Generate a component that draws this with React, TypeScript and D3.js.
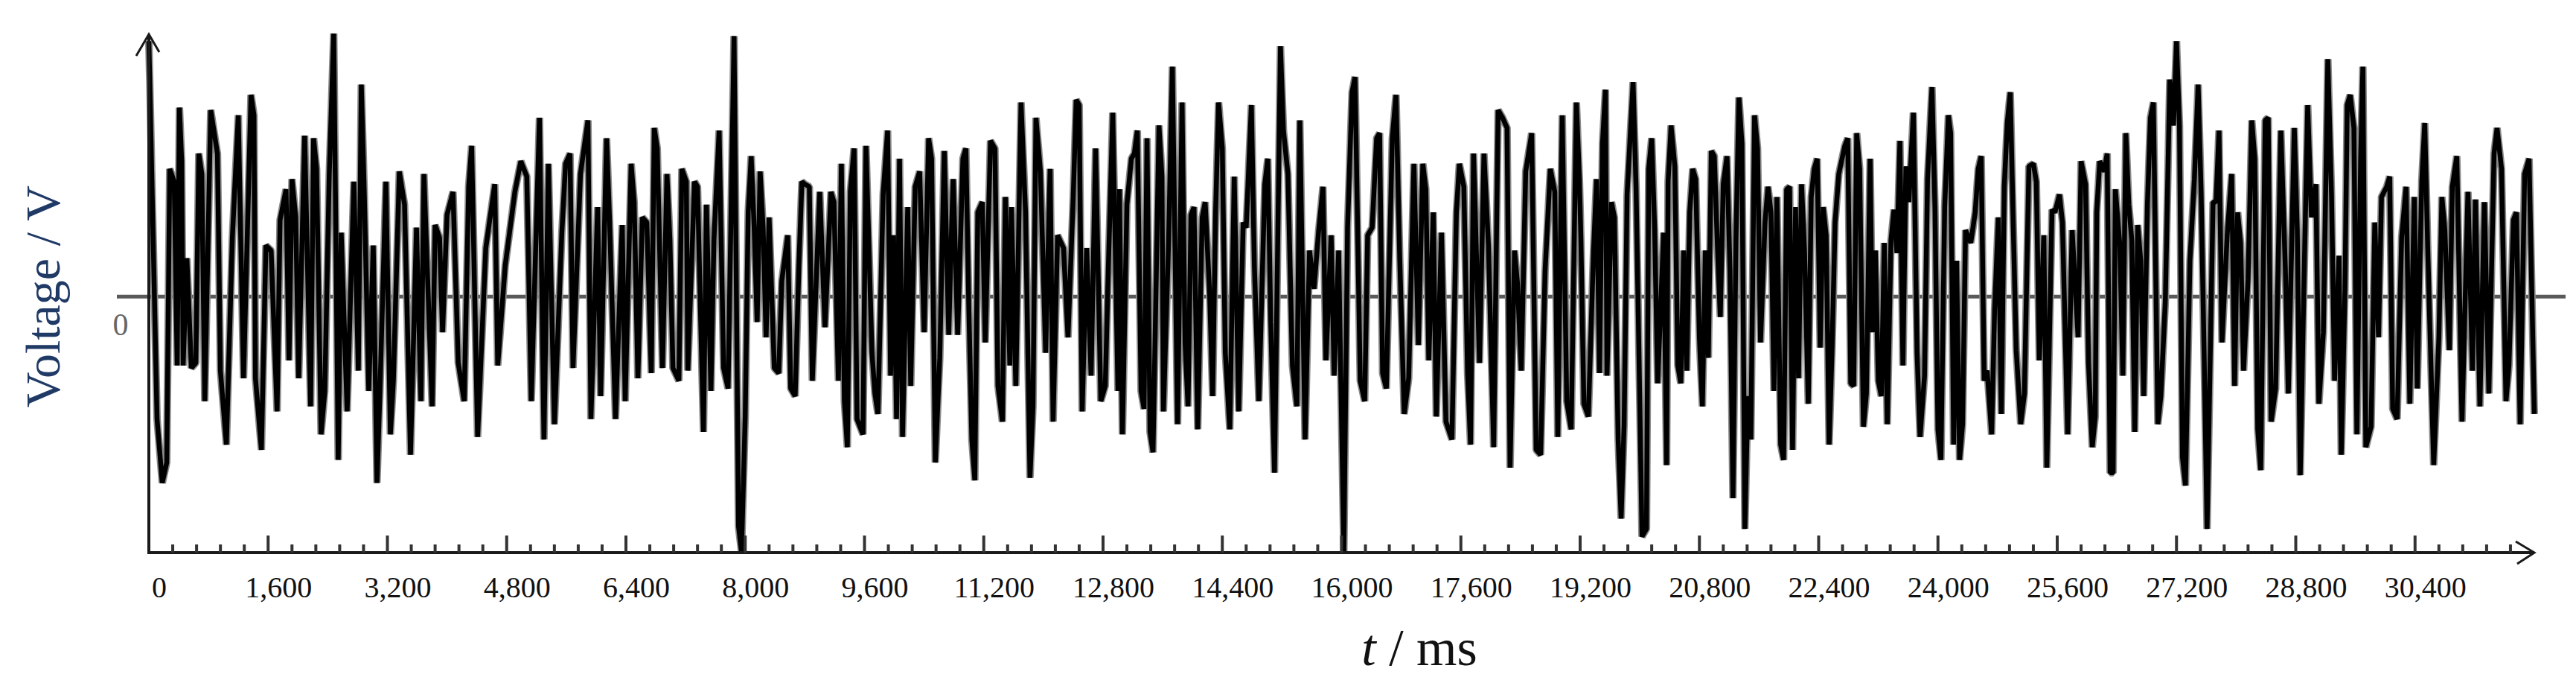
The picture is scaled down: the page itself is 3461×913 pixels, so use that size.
import React from "react";
import * as d3 from "d3";

const width = 3461;
const height = 913;
const timeEnd = 32000;

// trace samples: [time in ms, voltage in arbitrary units, 0 = baseline]
const trace0to6400: [number, number][] = [
  [0, 100], [30, 60], [110, -48], [180, -73], [240, -65], [280, 50], [340, 45], [380, -27], [410, 74], [440, 53],
  [460, -27], [510, 15], [570, -28], [630, -26], [670, 56], [710, 48], [750, -41], [830, 73], [920, 56], [960, -29],
  [1040, -58], [1120, 23], [1200, 71], [1270, -32], [1370, 79], [1410, 71], [1430, -32], [1510, -60], [1570, 20], [1640, 18],
  [1720, -45], [1760, 30], [1840, 42], [1880, -25], [1920, 46], [1970, 31], [2010, -32], [2090, 63], [2170, -43], [2210, 62],
  [2250, 50], [2310, -54], [2360, -37], [2420, 48], [2480, 103], [2540, -64], [2580, 25], [2660, -45], [2750, 45], [2810, -29],
  [2850, 83], [2890, 40], [2950, -37], [3010, 20], [3060, -73], [3100, -37], [3180, 45], [3240, -54], [3280, -33], [3360, 49],
  [3430, 36], [3510, -62], [3590, 27], [3650, -41], [3690, 48], [3800, -43], [3840, 28], [3900, 23], [3940, -14], [4000, 32],
  [4080, 41], [4150, -26], [4230, -41], [4290, 43], [4330, 59], [4410, -55], [4520, 19], [4640, 44], [4680, -27], [4780, 12],
  [4910, 41], [4990, 53], [5070, 47], [5130, -41], [5240, 70], [5300, -56], [5360, 52], [5440, -50], [5540, 25], [5590, 52],
  [5650, 56], [5690, -28], [5790, 48], [5890, 69], [5930, -48], [6020, 35], [6060, -39], [6140, 62], [6180, 30], [6260, -48],
  [6350, 28],
];
const trace6400to12800: [number, number][] = [
  [6390, -41], [6470, 52], [6510, 37], [6560, -32], [6620, 31], [6680, 29], [6740, -30], [6780, 66], [6820, 58], [6890, -28],
  [6950, 48], [6990, 22], [7030, -28], [7110, -33], [7150, 50], [7210, 45], [7230, -29], [7320, 45], [7360, 43], [7400, -6],
  [7440, -53], [7480, 36], [7540, -37], [7580, 22], [7650, 65], [7710, -28], [7770, -36], [7850, 102], [7910, -90], [7950, -100],
  [8000, -47], [8040, 33], [8080, 55], [8120, 27], [8160, -10], [8200, 49], [8240, 27], [8280, -16], [8320, 31], [8390, -28],
  [8450, -30], [8490, 6], [8570, 24], [8610, -36], [8670, -39], [8720, 12], [8760, 45], [8800, 44], [8860, 43], [8900, -33],
  [8960, 12], [9000, 41], [9070, -12], [9150, 41], [9190, 37], [9250, -33], [9290, 52], [9330, -41], [9370, -59], [9410, 41],
  [9460, 58], [9500, -48], [9580, -54], [9620, 59], [9660, 19], [9700, -22], [9740, -38], [9780, -46], [9850, 40], [9910, 65],
  [9950, -31], [9990, 24], [10030, -48], [10070, 54], [10110, -55], [10180, 35], [10220, -35], [10280, 43], [10340, 49], [10400, -14],
  [10460, 62], [10500, 54], [10550, -65], [10610, -24], [10670, 57], [10730, -15], [10770, 29], [10790, 46], [10850, -15], [10920, 54],
  [10960, 58], [11000, -5], [11040, -56], [11080, -72], [11120, 33], [11180, 37], [11220, -18], [11290, 61], [11350, 58], [11390, -35],
  [11450, -49], [11490, 39], [11550, -27], [11570, 35], [11630, -35], [11700, 76], [11760, 33], [11820, -71], [11860, -43], [11900, 70],
  [11960, 49], [12030, -22], [12090, 50], [12130, -49], [12190, 24], [12270, 19], [12330, -16], [12400, 39], [12440, 77], [12480, 75],
  [12520, -45], [12580, 19], [12640, -31], [12700, 58], [12770, -41],
];
const trace12800to19200: [number, number][] = [
  [12830, -35], [12870, 10], [12930, 72], [13000, -37], [13020, 42], [13060, -54], [13120, 36], [13180, 54], [13220, 56], [13260, 65],
  [13310, -37], [13350, -44], [13390, 62], [13430, -53], [13470, -61], [13510, 2], [13550, 67], [13590, 47], [13610, -45], [13680, 22],
  [13730, 90], [13800, -50], [13860, 76], [13900, -18], [13940, -43], [13980, 32], [14020, 35], [14070, -52], [14130, 31], [14170, 37],
  [14230, 1], [14270, -39], [14310, 33], [14350, 76], [14400, 58], [14440, -22], [14500, -52], [14560, 47], [14620, -45], [14680, 29],
  [14720, 27], [14790, 75], [14830, 12], [14890, -41], [14970, 44], [15010, 54], [15050, -10], [15100, -69], [15180, 98], [15220, 65],
  [15280, 48], [15340, -27], [15400, -43], [15440, 69], [15510, -56], [15570, 18], [15630, 3], [15690, 25], [15750, 43], [15790, -25],
  [15860, 24], [15900, -31], [15960, 18], [16030, -100], [16080, 27], [16140, 80], [16180, 86], [16250, -33], [16310, -41], [16350, 24],
  [16410, 27], [16470, 62], [16510, 64], [16550, -30], [16600, -36], [16680, 62], [16730, 79], [16780, 15], [16840, -46], [16900, -32],
  [16970, 52], [17030, -19], [17090, 52], [17130, 42], [17170, -25], [17230, 33], [17270, -47], [17340, 25], [17400, -49], [17480, -56],
  [17540, 33], [17580, 52], [17640, 43], [17690, -30], [17730, -58], [17770, 56], [17850, -26], [17910, 56], [17970, 20], [18040, -59],
  [18100, 73], [18160, 70], [18220, 66], [18260, -67], [18320, 18], [18360, 5], [18410, -29], [18470, 49], [18550, 64], [18610, -60],
  [18670, -62], [18730, 10], [18800, 50], [18860, 41], [18900, -55], [18960, 71], [19020, -41], [19080, -52], [19150, 76], [19190, 46],
];
const trace19200to25600: [number, number][] = [
  [19210, 23], [19250, -42], [19310, -47], [19380, 18], [19420, 46], [19460, -30], [19500, 60], [19540, 81], [19560, -31], [19620, 37],
  [19660, 31], [19710, -56], [19750, -87], [19790, -50], [19830, 40], [19910, 84], [19950, 43], [19990, -24], [20030, -94], [20090, -91],
  [20120, 50], [20160, 62], [20200, 26], [20240, -34], [20320, 25], [20360, -66], [20380, 45], [20420, 67], [20470, 51], [20510, -27],
  [20550, -34], [20590, 18], [20630, -29], [20670, 33], [20710, 50], [20750, 46], [20800, -16], [20840, -43], [20880, 18], [20920, -24],
  [20960, 57], [21000, 55], [21040, 21], [21080, -8], [21120, 44], [21170, 55], [21210, 10], [21250, -79], [21290, 22], [21330, 78],
  [21370, 60], [21410, -91], [21450, -39], [21490, -56], [21540, 71], [21580, 58], [21620, -18], [21680, 29], [21720, 43], [21760, 33],
  [21800, -37], [21840, 39], [21890, -58], [21930, -64], [21970, 42], [22010, 43], [22050, -60], [22090, 35], [22130, -32], [22170, 44],
  [22210, 18], [22260, -42], [22300, 39], [22340, 50], [22380, 54], [22420, -20], [22460, 35], [22500, 24], [22540, -58], [22580, -20],
  [22620, 29], [22670, 48], [22750, 59], [22790, 62], [22830, -34], [22870, -35], [22910, 64], [22950, 50], [23000, -51], [23040, -38],
  [23090, 54], [23120, -14], [23160, 18], [23200, -33], [23240, -39], [23280, 21], [23320, -50], [23370, 22], [23410, 34], [23450, 17],
  [23490, 61], [23530, -27], [23570, 51], [23610, 37], [23670, 72], [23720, -22], [23760, -55], [23820, -31], [23860, 46], [23920, 82],
  [23960, 35], [24000, -52], [24040, -64], [24090, 35], [24140, 71], [24170, 64], [24210, -58], [24250, 14], [24290, -64], [24330, -50],
  [24370, 26], [24440, 21], [24500, 33], [24540, 50], [24580, 55], [24620, -33], [24660, -29], [24720, -54], [24760, -5], [24810, 31],
  [24850, -46], [24890, 43], [24930, 68], [24970, 80], [25010, 28], [25050, -21], [25110, -50], [25160, -38], [25220, 51], [25280, 52],
  [25320, 45], [25360, -25], [25420, 24], [25460, -67], [25530, 34], [25570, 33],
];
const trace25600to32000: [number, number][] = [
  [25630, 40], [25670, 29], [25740, -54], [25800, 26], [25880, -16], [25920, 53], [25980, 44], [26020, -26], [26070, -59], [26110, -47],
  [26130, 33], [26170, 53], [26230, 49], [26270, 56], [26310, -69], [26350, -69], [26380, 42], [26440, 20], [26480, -31], [26520, 64],
  [26560, 36], [26600, 22], [26640, -53], [26680, 28], [26720, 14], [26760, -39], [26810, 36], [26850, 70], [26890, 76], [26950, -50],
  [26990, -39], [27050, -2], [27110, 85], [27160, 67], [27200, 100], [27240, 67], [27280, -63], [27320, -74], [27380, 14], [27440, 46],
  [27490, 83], [27530, 41], [27570, -22], [27610, -91], [27650, -27], [27690, 37], [27730, 37], [27770, 65], [27810, -18], [27880, 24],
  [27940, 48], [27980, -35], [28020, 33], [28060, 21], [28100, -29], [28160, 7], [28210, 69], [28250, 54], [28290, -52], [28330, -68],
  [28390, 69], [28430, 70], [28470, -49], [28530, -36], [28600, 65], [28660, 11], [28700, -38], [28780, 66], [28820, 26], [28860, -70],
  [28900, -9], [28960, 75], [29010, 31], [29070, 44], [29110, -42], [29170, -14], [29230, 93], [29280, 39], [29320, -33], [29380, 16],
  [29410, -62], [29460, 3], [29490, 75], [29530, 79], [29580, 66], [29620, -54], [29670, 54], [29700, 90], [29740, -59], [29810, -51],
  [29860, 29], [29910, -16], [29950, 39], [30020, 43], [30060, 47], [30100, -44], [30160, -48], [30220, 23], [30280, 43], [30330, -42],
  [30390, 39], [30430, -36], [30490, 45], [30530, 68], [30570, 19], [30650, -66], [30720, -16], [30760, 39], [30800, 26], [30860, -21],
  [30900, 43], [30960, 55], [31030, -49], [31110, 41], [31170, -29], [31210, 38], [31270, -43], [31330, 37], [31390, -38], [31460, 56],
  [31500, 66], [31560, 50], [31620, -41], [31660, -27], [31720, 30], [31760, 33], [31810, -50], [31870, 48], [31930, 54], [32000, -46],
];

const trace = [
  ...trace0to6400,
  ...trace6400to12800,
  ...trace12800to19200,
  ...trace19200to25600,
  ...trace25600to32000,
];

const majorTicks = [
  0, 1600, 3200, 4800, 6400, 8000, 9600, 11200, 12800, 14400,
  16000, 17600, 19200, 20800, 22400, 24000, 25600, 27200, 28800, 30400,
];
const tickLabels = [
  "0", "1,600", "3,200", "4,800", "6,400", "8,000", "9,600", "11,200",
  "12,800", "14,400", "16,000", "17,600", "19,200", "20,800", "22,400",
  "24,000", "25,600", "27,200", "28,800", "30,400",
];
const minorStep = 320;

const serif = "'Liberation Serif', 'Times New Roman', serif";

export default function App() {
  const x = d3.scaleLinear().domain([0, timeEnd]).range([200, 3405]);
  const y = d3.scaleLinear().domain([-100, 103]).range([741, 45]);

  const axisY = 742;
  const x0 = x(0);

  const line = d3
    .line<[number, number]>()
    .x((d) => x(d[0]))
    .y((d) => y(d[1]));

  const minorTicks = d3
    .range(minorStep, timeEnd, minorStep)
    .filter((t) => t % 1600 !== 0);

  const tracePath = line(trace) ?? "";

  return (
    <svg
      width={width}
      height={height}
      style={{ position: "absolute", left: 0, top: 0, background: "#fff" }}
    >
      {/* baseline at 0 V */}
      <line x1={157} x2={3447} y1={y(0)} y2={y(0)} stroke="#5a5a5a" strokeWidth={5} />

      {/* trace: soft grey pass under a black one, like the scanned plot */}
      <path d={tracePath} fill="none" stroke="#8a8a8a" strokeWidth={10} strokeLinejoin="bevel" />
      <path d={tracePath} fill="none" stroke="#000" strokeWidth={6.5} strokeLinejoin="bevel" />

      {/* y axis with open arrow */}
      <line x1={x0} x2={x0} y1={axisY + 2} y2={46} stroke="#1a1a1a" strokeWidth={4} />
      <polyline
        points={`${x0 - 17},75 ${x0},46 ${x0 + 14},70`}
        fill="none"
        stroke="#1a1a1a"
        strokeWidth={3}
      />

      {/* x axis with open arrow */}
      <line x1={x0 - 2} x2={x(timeEnd)} y1={axisY} y2={axisY} stroke="#1a1a1a" strokeWidth={4} />
      <polyline
        points={`${x(timeEnd) - 25},727 ${x(timeEnd)},${axisY} ${x(timeEnd) - 23},757`}
        fill="none"
        stroke="#1a1a1a"
        strokeWidth={3}
      />

      {majorTicks
        .filter((t) => t > 0)
        .map((t) => (
          <line
            key={`M${t}`}
            x1={x(t)}
            x2={x(t)}
            y1={axisY}
            y2={axisY - 23}
            stroke="#333"
            strokeWidth={4}
          />
        ))}
      {minorTicks.map((t) => (
        <line
          key={`m${t}`}
          x1={x(t)}
          x2={x(t)}
          y1={axisY}
          y2={axisY - 11}
          stroke="#333"
          strokeWidth={4}
        />
      ))}

      {majorTicks.map((t, i) => (
        <text
          key={`L${t}`}
          x={x(t) + 14}
          y={802}
          textAnchor="middle"
          fontFamily={serif}
          fontSize={40}
          fill="#111"
        >
          {tickLabels[i]}
        </text>
      ))}

      <text x={162} y={450} textAnchor="middle" fontFamily={serif} fontSize={42} fill="#666">
        0
      </text>

      <text
        transform={`translate(80, ${y(0)}) rotate(-90)`}
        textAnchor="middle"
        fontFamily={serif}
        fontSize={66}
        fill="#203a66"
      >
        Voltage / V
      </text>

      <text x={1907} y={893} textAnchor="middle" fontFamily={serif} fontSize={70} fill="#111">
        <tspan fontStyle="italic">t</tspan> / ms
      </text>
    </svg>
  );
}
